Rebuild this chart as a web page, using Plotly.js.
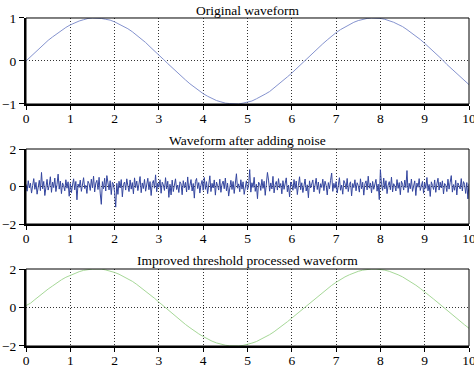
<!DOCTYPE html>
<html>
<head>
<meta charset="utf-8">
<script src="https://cdn.plot.ly/plotly-3.0.1.min.js"></script>
<style>html,body{margin:0;padding:0;background:#fff}#chart{width:474px;height:368px}</style>
</head>
<body>
<div id="chart"></div>
<script>
// ---- data ----
const titles = ["Original waveform", "Waveform after adding noise", "Improved threshold processed waveform"];
const xTicks = [0,1,2,3,4,5,6,7,8,9,10];
const dtSmooth = 0.1;   // sample step for the smooth curves
const dtNoise = 0.025;  // sample step for the noisy curve

const original = [0,0.10,0.20,0.30,0.39,0.48,0.56,0.64,0.72,0.78,0.84,0.89,0.93,0.96,0.99,1.00,1.00,0.99,0.97,0.95,
0.91,0.86,0.81,0.75,0.68,0.60,0.52,0.43,0.33,0.24,0.14,0.04,-0.06,-0.16,-0.26,-0.35,-0.44,-0.53,-0.61,-0.69,
-0.76,-0.82,-0.87,-0.92,-0.95,-0.98,-0.99,-1.00,-1.00,-0.98,-0.96,-0.93,-0.88,-0.83,-0.77,-0.71,-0.63,-0.55,-0.46,-0.37,
-0.28,-0.18,-0.08,0.02,0.12,0.22,0.31,0.40,0.49,0.58,0.66,0.73,0.79,0.85,0.90,0.94,0.97,0.99,1.00,1.00,
0.99,0.97,0.94,0.90,0.85,0.80,0.73,0.66,0.58,0.50,0.41,0.32,0.22,0.12,0.03,-0.08,-0.17,-0.27,-0.37,-0.46,-0.55];

const noisy = [0.12,-0.25,0.31,-0.08,0.18,-0.35,0.05,0.42,-0.15,0.22,-0.41,0.09,0.33,-0.22,0.75,-0.12,0.27,-0.48,0.14,0.38,
-0.19,0.07,0.52,-0.31,0.24,-0.06,0.45,-0.27,0.11,0.66,-0.14,0.29,-0.38,0.19,0.04,-0.23,0.36,-0.09,0.25,-0.52,
0.16,-0.33,0.08,0.41,-0.18,0.27,-0.71,0.13,-0.05,0.34,-0.26,0.21,0.47,-0.11,0.06,-0.37,0.28,0.15,-0.21,0.39,
-0.07,0.55,-0.29,0.18,0.33,-0.16,0.49,-0.35,-0.95,0.26,-0.12,0.44,-0.24,0.58,0.07,-0.18,0.31,-0.43,0.22,0.12,
-0.31,-1.1,0.17,-0.42,0.28,-0.08,0.37,-0.55,0.11,0.24,-0.19,0.41,0.03,-0.27,0.35,-0.14,0.21,-0.39,0.46,-0.06,
0.29,-0.22,0.13,0.53,-0.33,0.19,-0.11,0.38,-0.25,0.07,0.44,-0.17,0.26,-0.48,0.15,0.32,-0.09,0.62,-0.28,0.18,
-0.04,0.36,-0.36,0.23,0.09,-0.21,0.47,-0.13,0.28,-0.58,0.12,-0.45,0.34,-0.27,0.19,0.41,-0.16,0.08,-0.32,0.25,
0.14,-0.44,0.31,-0.07,0.22,-0.29,0.51,-0.18,0.06,0.37,-0.24,0.16,-0.62,0.27,0.43,-0.11,0.21,-0.35,0.09,0.32,
-0.2,0.48,-0.15,0.26,-0.38,0.11,0.57,-0.27,0.17,-0.08,0.35,-0.46,0.24,0.04,-0.19,0.39,-0.31,0.13,0.29,-0.12,
0.45,-0.23,0.18,-0.51,0.07,0.33,-0.16,0.27,-0.37,0.21,0.68,-0.09,0.14,-0.28,0.36,-0.14,0.25,-0.42,0.11,0.3,
-0.18,0.06,0.9,-0.3,0.2,-0.05,0.49,-0.26,0.12,-0.65,0.23,0.15,-0.21,0.38,-0.1,0.28,-0.47,0.17,0.75,0.34,
-0.25,0.19,-0.13,0.54,-0.34,0.1,0.27,-0.19,0.42,-0.07,0.16,-0.39,0.31,-0.15,0.22,0.46,-0.28,0.08,-0.55,0.24,
0.13,-0.2,0.37,-0.11,0.29,-0.43,0.06,0.52,-0.17,0.2,-0.32,0.14,0.4,-0.24,0.09,-0.6,0.3,-0.08,0.19,0.35,
-0.29,0.11,0.44,-0.16,0.24,-0.37,0.15,-0.05,0.39,-0.22,0.28,0.06,-0.45,0.21,-0.12,0.33,0.72,-0.26,0.17,-0.09,
0.26,-0.35,0.12,0.47,-0.2,0.08,-0.41,0.32,0.18,-0.14,0.43,-0.27,0.1,0.25,-0.5,0.16,-0.06,0.36,-0.23,0.2,
0.05,-0.3,0.41,-0.12,0.23,-0.46,0.14,0.3,-0.18,0.55,-0.09,0.19,-0.34,0.27,-0.15,0.09,0.38,-0.25,0.13,-0.7,
0.9,0.1,-0.21,0.45,-0.13,0.31,-0.38,0.07,0.26,-0.17,0.5,-0.29,0.15,0.03,-0.24,0.37,-0.1,0.21,-0.44,0.28,
0.12,-0.19,0.34,-0.06,0.85,-0.32,0.17,-0.12,0.4,-0.26,0.09,0.3,-0.48,0.18,-0.04,0.42,-0.21,0.13,0.27,-0.36,
0.2,-0.1,0.48,-0.23,0.11,-0.53,0.25,0.06,-0.16,0.35,-0.31,0.14,0.44,-0.19,0.23,-0.08,0.3,-0.4,0.16,0.07,
-0.27,0.39,-0.14,0.22,0.58,-0.3,0.1,-0.2,0.33,-0.45,0.19,0.04,-0.13,0.42,-0.24,0.26,0.12,-0.37,0.21,-0.66,
0.15];

const denoised = [0.10,0.22,0.41,0.60,0.79,0.96,1.12,1.29,1.44,1.57,1.68,1.78,1.86,1.93,1.98,2.00,2.00,2.00,1.95,1.90,
1.82,1.73,1.62,1.50,1.36,1.20,1.03,0.86,0.67,0.48,0.28,0.08,-0.12,-0.32,-0.52,-0.70,-0.88,-1.05,-1.22,-1.37,
-1.51,-1.64,-1.75,-1.84,-1.91,-1.96,-1.99,-2.00,-2.00,-1.97,-1.92,-1.85,-1.77,-1.66,-1.55,-1.41,-1.26,-1.10,-0.93,-0.74,
-0.55,-0.36,-0.16,0.04,0.24,0.43,0.62,0.80,0.98,1.15,1.31,1.46,1.59,1.70,1.80,1.88,1.94,1.98,2.00,2.00,
1.98,1.94,1.88,1.80,1.70,1.59,1.46,1.32,1.16,0.99,0.82,0.63,0.44,0.25,0.05,-0.15,-0.35,-0.54,-0.73,-0.90,-1.08];

const xs = (arr, dt) => arr.map((_, i) => +(i * dt).toFixed(4));

// ---- chart ----
const font = {family: '"Liberation Serif", "DejaVu Serif", serif', size: 13.5, color: '#000'};
const lineColors = ['#8593cf', '#34469f', '#a6d897'];
const yRanges = [[-1, 1], [-2, 2], [-2, 2]];
const yTickVals = [[-1, 0, 1], [-2, 0, 2], [-2, 0, 2]];
const domains = [[0.7174, 0.9511], [0.3913, 0.5951], [0.0598, 0.2690]];
const series = [[original, dtSmooth], [noisy, dtNoise], [denoised, dtSmooth]];

const traces = series.map(([ys, dt], k) => ({
  type: 'scatter', mode: 'lines',
  x: xs(ys, dt), y: ys,
  xaxis: k === 0 ? 'x' : 'x' + (k + 1),
  yaxis: k === 0 ? 'y' : 'y' + (k + 1),
  line: {color: lineColors[k], width: 1},
  hoverinfo: 'skip', showlegend: false
}));

const layout = {
  width: 474, height: 368,
  margin: {l: 26, r: 5, t: 0, b: 0},
  paper_bgcolor: '#fff', plot_bgcolor: '#fff',
  font: font, showlegend: false,
  annotations: [], shapes: []
};
const titleY = [10, 140, 260];
for (let k = 0; k < 3; k++) {
  const sx = k === 0 ? '' : String(k + 1);
  layout['xaxis' + sx] = {
    domain: [0, 1], range: [0, 10], anchor: 'y' + sx,
    tickvals: xTicks, ticktext: xTicks.map(String),
    ticks: 'outside', ticklen: 4, tickwidth: 1, tickcolor: '#000',
    ticklabelstandoff: -3, ticklabeloverflow: 'allow',
    showline: true, linewidth: 2, linecolor: '#000',
    showgrid: true, gridcolor: '#333', gridwidth: 1, griddash: '1px,2px',
    zeroline: false, tickfont: font, fixedrange: true
  };
  layout['yaxis' + sx] = {
    domain: domains[k], range: yRanges[k], anchor: 'x' + sx,
    tickvals: yTickVals[k],
    ticks: 'outside', ticklen: 5, tickwidth: 1, tickcolor: '#000',
    ticklabeloverflow: 'allow',
    showline: true, linewidth: 2, linecolor: '#000',
    showgrid: true, gridcolor: '#333', gridwidth: 1, griddash: '1px,2px',
    zeroline: false, tickfont: font, fixedrange: true
  };
  layout.shapes.push({
    type: 'rect', xref: 'x' + sx + ' domain', yref: 'y' + sx + ' domain',
    x0: 0, x1: 1, y0: 0, y1: 1, line: {color: '#000', width: 1}, fillcolor: 'rgba(0,0,0,0)'
  });
  layout.annotations.push({
    text: titles[k], xref: 'paper', yref: 'paper', x: 0.5, y: 1 - titleY[k] / 368,
    xanchor: 'center', yanchor: 'middle', showarrow: false, font: font
  });
}

Plotly.newPlot('chart', traces, layout, {staticPlot: true, displayModeBar: false});
</script>
</body>
</html>
